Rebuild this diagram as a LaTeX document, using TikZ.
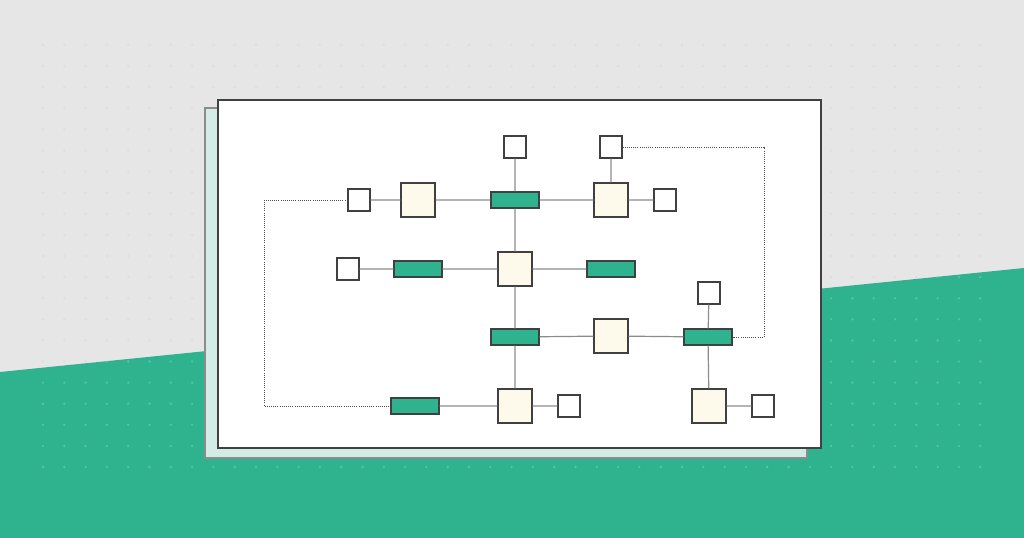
\documentclass[tikz,border=0pt]{standalone}
\begin{document}
\begin{tikzpicture}[x=0.75pt,y=-0.75pt,
  sq/.style={draw=black!75,line width=0.8pt,fill=white,minimum size=16.5pt,inner sep=0pt},
  cr/.style={draw=black!75,line width=0.8pt,fill=cream,minimum size=25.5pt,inner sep=0pt},
  gr/.style={draw=black!75,line width=0.8pt,fill=teal1,minimum width=36pt,minimum height=12pt,inner sep=0pt},
  ln/.style={draw=black!45,line width=0.9pt},
  dl/.style={draw=black!70,line width=0.6pt,densely dotted}]
\definecolor{bg}{HTML}{E6E6E6}
\definecolor{teal1}{HTML}{2FB38F}
\definecolor{cream}{HTML}{FDFAEC}
\definecolor{shad}{HTML}{D3ECE6}
\useasboundingbox (0,0) rectangle (1024,538);
\fill[bg] (0,0) rectangle (1024,538);
\foreach \i in {0,...,44}{\foreach \j in {0,...,20}{
  \fill[black!13] ({43+21.3*\i},{45+21.1*\j}) circle (1.3);}}
\fill[teal1] (0,372) -- (1024,268) -- (1024,538) -- (0,538) -- cycle;
\begin{scope}
\clip (0,372) -- (1024,268) -- (1024,538) -- (0,538) -- cycle;
\foreach \i in {0,...,44}{\foreach \j in {0,...,20}{
  \fill[white!20!teal1] ({43+21.3*\i},{45+21.1*\j}) circle (1.3);}}
\end{scope}
\fill[shad,draw=black!45,line width=0.8pt] (205,108) rectangle (807,458);
\fill[white,draw=black!75,line width=0.8pt] (218,100) rectangle (821,448);
% nodes
\node[sq] (s1) at (515,147) {};
\node[sq] (s2) at (611,147) {};
\node[sq] (s3) at (359,200) {};
\node[sq] (s4) at (665,200) {};
\node[sq] (s5) at (348,269) {};
\node[sq] (s6) at (709,293) {};
\node[sq] (s7) at (569,406) {};
\node[sq] (s8) at (763,406) {};
\node[cr] (c1) at (418,200) {};
\node[cr] (c2) at (611,200) {};
\node[cr] (c3) at (515,269) {};
\node[cr] (c4) at (611,336) {};
\node[cr] (c5) at (515,406) {};
\node[cr] (c6) at (709,406) {};
\node[gr] (g1) at (515,200) {};
\node[gr] (g2) at (418,269) {};
\node[gr] (g3) at (611,269) {};
\node[gr] (g4) at (515,337) {};
\node[gr] (g5) at (708,337) {};
\node[gr] (g6) at (415,406) {};
\begin{scope}[on background layer/.style={}]
\end{scope}
\path[ln] (s1)--(g1) (g1)--(c1) (c1)--(s3) (g1)--(c2) (c2)--(s4) (c2)--(s2)
 (g1)--(c3) (c3)--(g2) (g2)--(s5) (c3)--(g3) (c3)--(g4) (g4)--(c4) (c4)--(g5)
 (g5)--(s6) (g5)--(c6) (c6)--(s8) (g4)--(c5) (c5)--(g6) (c5)--(s7);
\coordinate (d1) at (264,200); \coordinate (d2) at (264,406);
\coordinate (d3) at (764,147); \coordinate (d4) at (764,337);
\path[dl] (s3.west)--(d1)--(d2)--(g6.west);
\path[dl] (s2.east)--(d3)--(d4)--(g5.east);
\end{tikzpicture}
\end{document}
